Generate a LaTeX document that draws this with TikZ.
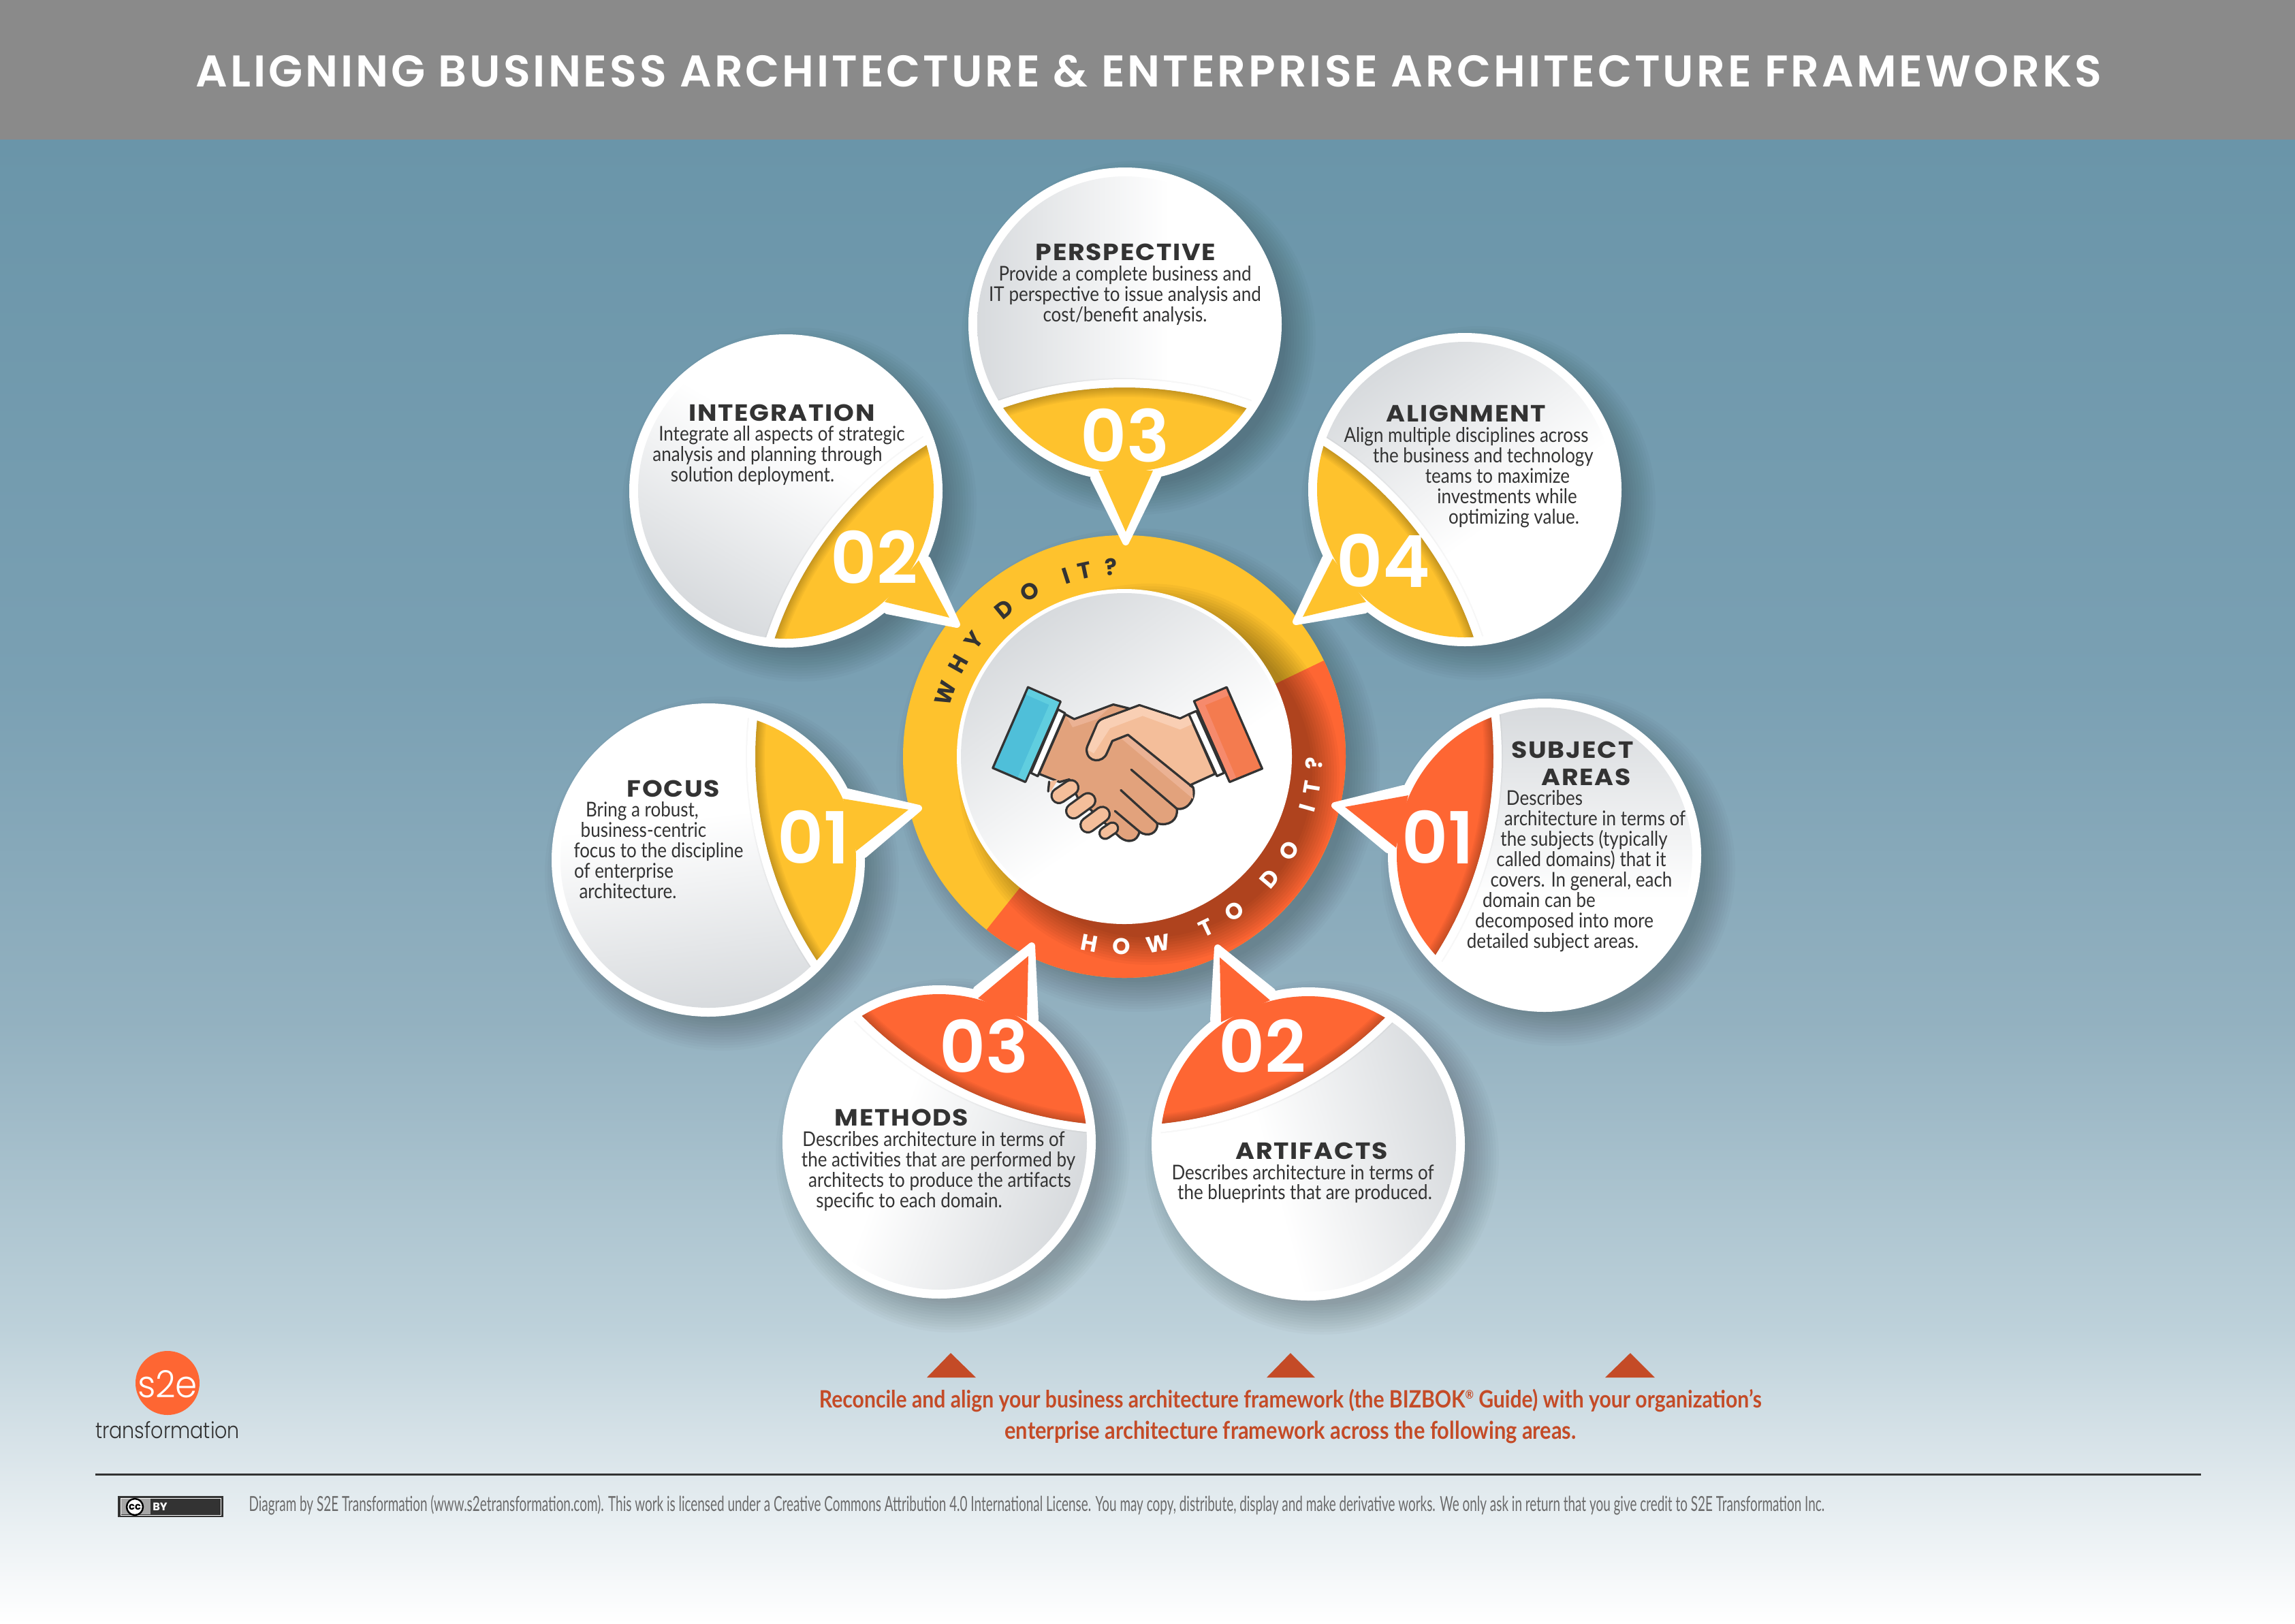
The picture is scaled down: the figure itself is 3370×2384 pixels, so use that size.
\documentclass[tikz,border=0pt]{standalone}
\usepackage{fontspec}
\setmainfont{Lato}
\newfontfamily\bodyf[FakeStretch=0.87]{Lato}
\newfontfamily\footf[FakeStretch=0.62]{Lato}
\newfontfamily\boldf[FakeStretch=0.86]{Lato Bold}
\newfontfamily\headf[LetterSpace=5,FakeStretch=1.1]{Poppins}
\newfontfamily\titlef[LetterSpace=6]{Poppins SemiBold}
\newfontfamily\numf{Poppins SemiBold}
\newfontfamily\ringf{Poppins}
\newfontfamily\logof{Poppins Light}
\definecolor{accY}{HTML}{FEC22D}
\definecolor{accO}{HTML}{FE6633}
\definecolor{textdark}{HTML}{333333}
\definecolor{discgrey}{HTML}{D7DADD}
\definecolor{bgA}{HTML}{6A95A9}
\definecolor{bgB}{HTML}{7AA0B3}
\definecolor{bgC}{HTML}{93B1C0}
\definecolor{bgD}{HTML}{BDD1DA}
\definecolor{bgE}{HTML}{DCE6EB}
\definecolor{redtxt}{HTML}{C44B27}
\definecolor{handD}{HTML}{E2A27C}
\definecolor{handDh}{HTML}{EBB294}
\definecolor{handL}{HTML}{F4BE9A}
\definecolor{handLh}{HTML}{F9CFB4}
\definecolor{cuffB}{HTML}{4FBFD9}
\definecolor{cuffBh}{HTML}{60CEDF}
\definecolor{cuffO}{HTML}{F47B4F}
\definecolor{cuffOh}{HTML}{F68A6C}
\pgfdeclareverticalshading{bgshade}{100bp}{color(0bp)=(white); color(25bp)=(white); color(30.35bp)=(bgE); color(34.95bp)=(bgD); color(45.3bp)=(bgC); color(56.75bp)=(bgB); color(75bp)=(bgA); color(100bp)=(bgA)}
\pgfdeclareverticalshading{discshade}{100bp}{color(0bp)=(white); color(42.5bp)=(white); color(75bp)=(discgrey); color(100bp)=(discgrey)}
\newcounter{autoid}
\tikzset{
  bodytext/.style={inner sep=0,anchor=base,text=textdark,font=\bodyf\fontsize{8.5}{10}\selectfont},
  headtext/.style={inner sep=0,anchor=base,text=textdark,font=\headf\bfseries\fontsize{9.8}{10}\selectfont},
  numtext/.style={inner sep=0,anchor=base,text=white,font=\numf\fontsize{30}{30}\selectfont},
  ringtext/.style={inner sep=0,font=\ringf\bfseries\fontsize{9.5}{11}\selectfont},
  handline/.style={draw=textdark,line width=0.33mm,line join=round,line cap=round},
}
\newcommand{\bl}[3]{\stepcounter{autoid}\node[bodytext] (b\theautoid) at (#1,#2) {#3};}
\newcommand{\hd}[3]{\stepcounter{autoid}\node[headtext] (h\theautoid) at (#1,#2) {#3};}
\newcommand{\num}[3]{\stepcounter{autoid}\node[numtext] (d\theautoid) at (#1,#2) {#3};}
\newcommand{\softshadow}[3]{\foreach \dd in {44,40,...,0}{\fill[black,opacity=0.02] (#1+20,#2+20) circle[radius=#3+\dd-14];}}
% cx cy colour shading-angle outer-tail inner-tail
\newcommand{\bub}[6]{%
  \fill[white] (#1,#2) circle[radius=230];
  \filldraw[white,line width=1mm,line join=round] #5 -- cycle;
  \shade[shading=discshade,shading angle=#4] (#1,#2) circle[radius=217];
  \begin{scope}
    \clip (#1,#2) circle[radius=217];
    \fill[#3] (1651,1111) circle[radius=542];
    \foreach \ww in {4,8,...,28}{\draw[black,opacity=0.03,line width=\ww*0.1mm] (1651,1111) circle[radius=542];}
  \end{scope}
  \begin{scope}
    \clip (#1,#2) circle[radius=226];
    \draw[white,line width=1.2mm] (1651,1111) circle[radius=548];
  \end{scope}
  \fill[#3] #6 -- cycle;
}
\begin{document}
\begin{tikzpicture}[x=0.1mm,y=-0.1mm]
\useasboundingbox (0,0) rectangle (3370,2384);
\shade[shading=bgshade] (0,205) rectangle (3370,2384);
\fill[black!46] (0,0) rectangle (3370,205);
\node[inner sep=0,anchor=base,text=white] (title) at (1687,127) {\resizebox{279.8mm}{!}{\titlef\fontsize{18.5}{20}\selectfont ALIGNING BUSINESS ARCHITECTURE \& ENTERPRISE ARCHITECTURE FRAMEWORKS}};
% shadows
\softshadow{1651}{1111}{325}
\softshadow{1652}{476}{230}
\softshadow{1154}{721}{230}
\softshadow{2151}{719}{230}
\softshadow{1040}{1263}{230}
\softshadow{2268}{1256}{230}
\softshadow{1379}{1677}{230}
\softshadow{1921}{1680}{230}
% ring
\fill[accY] (1651,1111) circle[radius=325];
\begin{scope}
  \clip (1651,1111) -- ({1651+1000*cos(-128.5)},{1111-1000*sin(-128.5)}) -- ({1651+1000*cos(-80)},{1111-1000*sin(-80)}) -- ({1651+1000*cos(-30)},{1111-1000*sin(-30)}) -- ({1651+1000*cos(25.7)},{1111-1000*sin(25.7)}) -- cycle;
  \fill[accO] (1651,1111) circle[radius=325];
\end{scope}
\begin{scope}
  \clip (1651,1111) circle[radius=325];
  \foreach \dd in {40,36,...,0}{\fill[black,opacity=0.03] (1651+36,1111+26) circle[radius=240+\dd];}
\end{scope}
\fill[white] (1651,1111) circle[radius=246];
\shade[shading=discshade,shading angle=35] (1651,1111) circle[radius=240];
% ring words
\foreach \c/\a in {W/160.5,H/150.8,Y/142.2,D/129.3,O/119.9,I/107.9,T/102,?/94}{
  \stepcounter{autoid}
  \node[ringtext,text=textdark,rotate=\a-90] (r\theautoid) at ({1651+279*cos(\a)},{1111-279*sin(\a)}) {\c};
}
\foreach \c/\a in {H/-100.7,O/-90.9,W/-79.7,T/-64.4,O/-54.7,D/-40.2,O/-29.8,I/-15.7,T/-9.4,?/-2}{
  \stepcounter{autoid}
  \node[ringtext,text=white,rotate=\a+90] (r\theautoid) at ({1651+279*cos(\a)},{1111-279*sin(\a)}) {\c};
}
% handshake
\begin{scope}[shift={(1300,750)},scale=0.4783]
  \path[fill=handD,handline] (552,625) -- (580,640) -- (700,595) -- (760,610) -- (945,850) .. controls (955,880) and (930,922) .. (895,915) .. controls (900,950) and (870,970) .. (835,960) .. controls (838,990) and (805,1005) .. (780,985) .. controls (775,1018) and (740,1025) .. (712,995) -- (590,880) -- (565,825) -- (535,833) -- (472,808) -- cycle;
  \fill[handDh] (556,632) -- (580,644) -- (690,603) -- (650,640) -- (575,665) -- cycle;
  \fill[handDh] (725,700) -- (745,692) -- (942,852) -- (945,885) -- cycle;
  \draw[handline] (755,795) -- (895,915);
  \draw[handline] (723,858) -- (835,960);
  \draw[handline] (705,922) -- (780,985);
  \path[fill=handL,handline] (780,597) -- (905,638) -- (932,625) -- (1012,808) -- (935,843) -- (945,850) -- (745,688) -- (697,707) -- (680,745) .. controls (668,775) and (620,775) .. (618,735) .. controls (618,725) and (622,720) .. (625,712) -- (650,655) .. controls (655,645) and (660,642) .. (670,638) -- cycle;
  \fill[handLh] (781,601) -- (905,642) -- (932,629) -- (943,655) -- (905,672) -- (790,630) -- (690,668) -- (640,745) -- (622,735) -- (653,656) .. controls (658,648) and (662,645) .. (672,641) -- cycle;
  % fist
  \fill[handL] (503,832) -- (530,826) -- (506,865) -- cycle;
  \draw[handline] (503,832) -- (500,862);
  \foreach \ax/\ay/\bx/\by/\ow/\iw in {533/875/570/850/2.5/1.84,578/922/622/890/2.5/1.84,622/965/666/932/2.5/1.84,675/990/697/975/2.0/1.34}{
    \draw[textdark,line width=\ow mm,line cap=round] (\ax,\ay) -- (\bx,\by);
    \draw[handL,line width=\iw mm,line cap=round] (\ax,\ay) -- (\bx,\by);
  }
  % cuffs
  \path[fill=white,handline] (530,610) -- (552,622) -- (468,815) -- (447,805) -- cycle;
  \path[fill=cuffB,handline] (438,542) -- (538,586) -- (430,833) -- (330,790) -- cycle;
  \fill[cuffBh] (440,547) -- (534,588) -- (429,828) -- (407,818) -- (503,596) -- (432,565) -- cycle;
  \path[fill=white,handline] (932,625) -- (955,615) -- (1040,805) -- (1018,815) -- cycle;
  \path[fill=cuffO,handline] (948,585) -- (1048,542) -- (1157,792) -- (1057,833) -- cycle;
  \fill[cuffOh] (953,587) -- (1046,547) -- (1053,568) -- (982,597) -- (1077,820) -- (1059,828) -- cycle;
\end{scope}
% bubbles
\bub{1652}{476}{accY}{90}{(1606,702) -- (1653,796) -- (1700,700)}{(1613,691) -- (1653,781) -- (1693,691)}
\bub{1154}{721}{accY}{150}{(1362,822) -- (1405,917) -- (1303,897)}{(1349,823) -- (1394,907) -- (1299,884)}
\bub{2151}{719}{accY}{35}{(1946,820) -- (1903,913) -- (2004,896)}{(1957,820) -- (1913,906) -- (2006,884)}
\bub{1040}{1263}{accY}{187}{(1245,1163) -- (1349,1187) -- (1269,1255)}{(1238,1173) -- (1334,1189) -- (1257,1250)}
\bub{2268}{1256}{accO}{0}{(2061,1158) -- (1960,1183) -- (2038,1248)}{(2068,1168) -- (1975,1185) -- (2050,1245)}
\bub{1379}{1677}{accO}{-110}{(1434,1453) -- (1515,1389) -- (1520,1497)}{(1436,1466) -- (1510,1404) -- (1508,1499)}
\bub{1921}{1680}{accO}{-75}{(1868,1456) -- (1788,1392) -- (1782,1498)}{(1865,1469) -- (1791,1406) -- (1793,1501)}
% numbers
\num{1652}{678}{03}
\num{1284}{857}{02}
\num{2031}{862}{04}
\num{1195}{1268}{01}
\num{2112}{1268}{01}
\num{1445}{1575}{03}
\num{1854}{1575}{02}
% perspective
\hd{1653}{382}{PERSPECTIVE}
\bl{1652}{412}{Provide a complete business and}
\bl{1652}{442}{IT perspective to issue analysis and}
\bl{1652}{472}{cost/benefit analysis.}
% integration
\hd{1148}{618}{INTEGRATION}
\bl{1148}{647}{Integrate all aspects of strategic}
\bl{1127}{677}{analysis and planning through}
\bl{1105}{707}{solution deployment.}
% alignment
\hd{2153}{619}{ALIGNMENT}
\bl{2153}{649}{Align multiple disciplines across}
\bl{2178}{679}{the business and technology}
\bl{2199}{709}{teams to maximize}
\bl{2213}{739}{investments while}
\bl{2223}{769}{optimizing value.}
% focus
\hd{989}{1170}{FOCUS}
\bl{943}{1199}{Bring a robust,}
\bl{945}{1229}{business-centric}
\bl{967}{1259}{focus to the discipline}
\bl{916}{1289}{of enterprise}
\bl{922}{1319}{architecture.}
% subject areas
\hd{2309}{1113}{SUBJECT}
\hd{2329}{1153}{AREAS}
\bl{2268}{1182}{Describes}
\bl{2342}{1212}{architecture in terms of}
\bl{2326}{1242}{the subjects (typically}
\bl{2322}{1272}{called domains) that it}
\bl{2322}{1302}{covers. In general, each}
\bl{2260}{1332}{domain can be}
\bl{2297}{1362}{decomposed into more}
\bl{2280}{1392}{detailed subject areas.}
% methods
\hd{1324}{1653}{METHODS}
\bl{1371}{1683}{Describes architecture in terms of}
\bl{1378}{1713}{the activities that are performed by}
\bl{1380}{1743}{architects to produce the artifacts}
\bl{1335}{1773}{specific to each domain.}
% artifacts
\hd{1926}{1702}{ARTIFACTS}
\bl{1913}{1732}{Describes architecture in terms of}
\bl{1916}{1761}{the blueprints that are produced.}
% triangles
\fill[redtxt] (1361,2023) -- (1396,1987) -- (1433,2023) -- cycle;
\fill[redtxt] (1860,2023) -- (1895,1987) -- (1931,2023) -- cycle;
\fill[redtxt] (2357,2023) -- (2394,1987) -- (2430,2023) -- cycle;
\node[inner sep=0,anchor=base,text=redtxt] (call1) at (1895,2067) {\resizebox{138.4mm}{!}{\boldf\fontsize{9}{10}\selectfont Reconcile and align your business architecture framework (the BIZBOK\raisebox{0.7ex}{\fontsize{4.5}{5}\selectfont ®} Guide) with your organization’s}};
\node[inner sep=0,anchor=base,text=redtxt] (call2) at (1895,2113) {\resizebox{83.9mm}{!}{\boldf\fontsize{9}{10}\selectfont enterprise architecture framework across the following areas.}};
% logo
\fill[accO] (246,2031) circle[radius=47];
\node[inner sep=0,anchor=base,text=white] (logos2e) at (246,2052) {\resizebox{8.8mm}{4mm}{\logof s2e}};
\node[inner sep=0,anchor=base,text=textdark] (logotr) at (246,2112) {\resizebox{21.2mm}{2.5mm}{\logof transformation}};
% rule
\draw[textdark,line width=0.3mm] (140,2165) -- (3232,2165);
% licence badge
\fill[textdark] (173,2197) rectangle (328,2228);
\fill[black!35] (178,2201) rectangle (221,2224);
\draw[white,line width=0.1mm] (177,2200) rectangle (324,2225);
\filldraw[fill=white,draw=black,line width=0.25mm] (198,2213) circle[radius=12];
\node[inner sep=0,text=black,font=\ringf\bfseries\fontsize{4.2}{5}\selectfont] (cc) at (198,2213) {cc};
\node[inner sep=0,text=white,font=\ringf\bfseries\fontsize{4.6}{5}\selectfont] (by) at (235,2213) {BY};
\node[inner sep=0,anchor=base west,text=black!58] (foot) at (365,2219) {\resizebox{231.3mm}{!}{\footf\fontsize{6.8}{8}\selectfont Diagram by S2E Transformation (www.s2etransformation.com). This work is licensed under a Creative Commons Attribution 4.0 International License. You may copy, distribute, display and make derivative works. We only ask in return that you give credit to S2E Transformation Inc.}};
\end{tikzpicture}
\end{document}
